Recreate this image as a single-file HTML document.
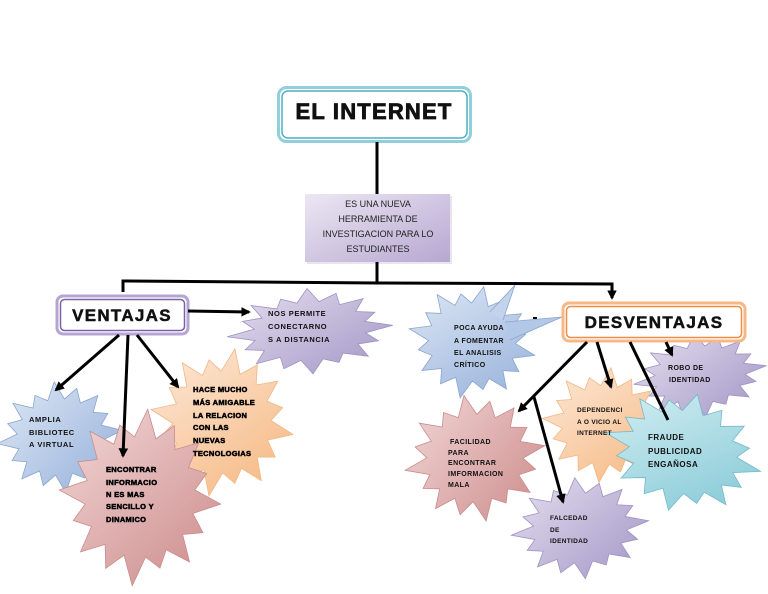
<!DOCTYPE html>
<html><head><meta charset="utf-8"><style>
html,body{margin:0;padding:0;background:#fff;}
svg{display:block;}
</style></head><body>
<svg width="768" height="594" viewBox="0 0 768 594" xmlns="http://www.w3.org/2000/svg" font-family="Liberation Sans, Arial, sans-serif">
<defs>
<polygon id="star" vector-effect="non-scaling-stroke" points="100,0 66.7,13.3 81.3,33.7 56.5,37.8 67.9,67.9 37.8,56.5 32.2,77.6 13.3,66.7 0,100 -13.3,66.7 -34.5,83.2 -37.8,56.5 -67.2,67.2 -56.5,37.8 -79.5,32.9 -66.7,13.3 -100,0 -66.7,-13.3 -80.4,-33.3 -56.5,-37.8 -68.6,-68.6 -37.8,-56.5 -32.6,-78.5 -13.3,-66.7 0,-99 13.3,-66.7 34.5,-83.2 37.8,-56.5 66.5,-66.5 56.5,-37.8 79.5,-32.9 66.7,-13.3"/>
<linearGradient id="gPur" x1="0" y1="0" x2="1" y2="1"><stop offset="0" stop-color="#e4dfef"/><stop offset="1" stop-color="#a396c6"/></linearGradient>
<linearGradient id="gBlu" x1="0" y1="0" x2="1" y2="1"><stop offset="0" stop-color="#e0e9f5"/><stop offset="1" stop-color="#93afda"/></linearGradient>
<linearGradient id="gPea" x1="0" y1="0" x2="1" y2="1"><stop offset="0" stop-color="#fdeadb"/><stop offset="1" stop-color="#f5b57c"/></linearGradient>
<linearGradient id="gPin" x1="0" y1="0" x2="1" y2="1"><stop offset="0" stop-color="#f3d8d8"/><stop offset="1" stop-color="#cc8a8a"/></linearGradient>
<linearGradient id="gTea" x1="0" y1="0" x2="1" y2="1"><stop offset="0" stop-color="#d9f0f4"/><stop offset="1" stop-color="#7dc6d4"/></linearGradient>
<linearGradient id="gBox" x1="0" y1="0" x2="1" y2="1"><stop offset="0" stop-color="#ece7f3"/><stop offset="1" stop-color="#b7a7d1"/></linearGradient>
<marker id="ah" viewBox="0 0 10 10" refX="8" refY="5" markerWidth="3.2" markerHeight="3.2" orient="auto"><path d="M0,0 L10,5 L0,10 z" fill="#000"/></marker>
</defs>

<!-- left stars -->
<use href="#star" transform="translate(60,437) rotate(-6) scale(0.63,0.56)" fill="url(#gBlu)" stroke="#8aa5cf" stroke-width="0.8"/>
<use href="#star" transform="translate(222,422) rotate(10) scale(0.72,0.75)" fill="url(#gPea)" stroke="#f1b886" stroke-width="0.8"/>
<use href="#star" transform="translate(310,331) rotate(-4) scale(0.83,0.43)" fill="url(#gPur)" stroke="#9f92c2" stroke-width="0.8"/>
<use href="#star" transform="translate(140,497) rotate(5) scale(0.81,0.89)" fill="url(#gPin)" stroke="#c98c8c" stroke-width="0.8"/>

<!-- right stars -->
<line x1="537" y1="318" x2="533" y2="318" stroke="#000" stroke-width="2"/>
<use href="#star" transform="translate(472,342) rotate(12) scale(0.64,0.57)" fill="url(#gBlu)" stroke="#8aa5cf" stroke-width="0.8"/>
<polygon points="490,312 515,285 503,320" fill="#c3d3ec"/>
<polyline points="490,312 515,285 503,320" fill="none" stroke="#8aa5cf" stroke-width="0.8"/>
<polygon points="505,322 562,317 510,340" fill="#b3c7e6"/>
<polyline points="505,322 562,317 510,340" fill="none" stroke="#8aa5cf" stroke-width="0.8"/>
<use href="#star" transform="translate(700,375) rotate(-8) scale(0.67,0.42)" fill="url(#gPur)" stroke="#9f92c2" stroke-width="0.8"/>
<use href="#star" transform="translate(605,425) rotate(6) scale(0.63,0.58)" fill="url(#gPea)" stroke="#f1b886" stroke-width="0.8"/>
<use href="#star" transform="translate(475,458) rotate(-10) scale(0.71,0.64)" fill="url(#gPin)" stroke="#c98c8c" stroke-width="0.8"/>
<use href="#star" transform="translate(683,452) rotate(14) scale(0.80,0.60)" fill="url(#gTea)" stroke="#72b9c8" stroke-width="0.8"/>
<use href="#star" transform="translate(580,528) rotate(-6) scale(0.69,0.51)" fill="url(#gPur)" stroke="#9f92c2" stroke-width="0.8"/>

<!-- EL INTERNET box -->
<rect x="278.5" y="87.5" width="192" height="54" rx="8" fill="#fff" stroke="#8fd0dc" stroke-width="3"/>
<rect x="282" y="91" width="185" height="47" rx="6" fill="none" stroke="#4fb0c4" stroke-width="1.5"/>
<text x="374" y="119" text-anchor="middle" font-size="22" font-weight="bold" letter-spacing="1.2" fill="#111" stroke="#111" stroke-width="0.8">EL INTERNET</text>

<!-- subtitle box -->
<rect x="307" y="196" width="145" height="68" fill="#d8d3e2" opacity="0.6"/>
<rect x="305" y="194" width="145" height="68" fill="url(#gBox)"/>
<g font-size="9" fill="#222" text-anchor="middle">
<text x="378" y="207">ES UNA NUEVA</text>
<text x="378" y="222">HERRAMIENTA DE</text>
<text x="378" y="237">INVESTIGACION PARA LO</text>
<text x="378" y="252">ESTUDIANTES</text>
</g>

<!-- VENTAJAS box -->
<rect x="57" y="296" width="131" height="38" rx="6" fill="#fff" stroke="#b5a5d3" stroke-width="3"/>
<rect x="60.5" y="299.5" width="124" height="31" rx="4" fill="none" stroke="#7b61a8" stroke-width="1.5"/>
<text x="122" y="321" text-anchor="middle" font-size="17" font-weight="bold" letter-spacing="1.3" fill="#111" stroke="#111" stroke-width="0.5">VENTAJAS</text>

<!-- DESVENTAJAS box -->
<rect x="563" y="303" width="182" height="38" rx="6" fill="#fff" stroke="#f8b784" stroke-width="3"/>
<rect x="566.5" y="306.5" width="175" height="31" rx="4" fill="none" stroke="#ee8e45" stroke-width="1.5"/>
<text x="654" y="328" text-anchor="middle" font-size="17" font-weight="bold" letter-spacing="1.3" fill="#111" stroke="#111" stroke-width="0.5">DESVENTAJAS</text>

<!-- connectors -->
<g stroke="#000" stroke-width="3" fill="none" stroke-linecap="butt">
<line x1="377" y1="142" x2="377" y2="194"/>
<line x1="377" y1="262" x2="377" y2="283"/>
<polyline points="123,292 123,281 377,283 612,284 612,298" marker-end="url(#ah)"/>
<line x1="188" y1="311" x2="249" y2="312" marker-end="url(#ah)"/>
<line x1="119" y1="335" x2="56" y2="390" marker-end="url(#ah)"/>
<line x1="128" y1="335" x2="123" y2="456" marker-end="url(#ah)"/>
<line x1="137" y1="335" x2="178" y2="387" marker-end="url(#ah)"/>
<line x1="587" y1="342" x2="519" y2="411" marker-end="url(#ah)"/>
<line x1="534" y1="397" x2="563" y2="502" marker-end="url(#ah)"/>
<line x1="597" y1="342" x2="611" y2="387" marker-end="url(#ah)"/>
<line x1="630" y1="342" x2="668" y2="420"/>
<line x1="666" y1="342" x2="672" y2="355" marker-end="url(#ah)"/>
</g>

<!-- star texts -->
<g font-size="7.5" font-weight="bold" fill="#111" letter-spacing="0.6">
<text x="268" y="316">NOS PERMITE</text>
<text x="268" y="329">CONECTARNO</text>
<text x="268" y="342">S  A DISTANCIA</text>

<text x="29" y="422">AMPLIA</text>
<text x="29" y="435">BIBLIOTEC</text>
<text x="29" y="447">A VIRTUAL</text>
</g>
<g font-size="7.5" font-weight="bold" fill="#000" stroke="#000" stroke-width="0.5" letter-spacing="0.3">
<text x="193" y="392">HACE MUCHO</text>
<text x="193" y="405">MÁS AMIGABLE</text>
<text x="193" y="418">LA RELACION</text>
<text x="193" y="430">CON LAS</text>
<text x="193" y="443">NUEVAS</text>
<text x="193" y="456">TECNOLOGIAS</text>

<text x="106" y="472">ENCONTRAR</text>
<text x="106" y="485">INFORMACIO</text>
<text x="106" y="497">N ES MAS</text>
<text x="106" y="509">SENCILLO Y</text>
<text x="106" y="522">DINAMICO</text>
</g>
<g font-size="7" font-weight="bold" fill="#111" letter-spacing="0.4">
<text x="454" y="330">POCA AYUDA</text>
<text x="454" y="343">A FOMENTAR</text>
<text x="454" y="355">EL ANALISIS</text>
<text x="454" y="367">CRÍTICO</text>

<text x="668" y="370">ROBO DE</text>
<text x="669" y="382">IDENTIDAD</text>

<text x="450" y="444">FACILIDAD</text>
<text x="448" y="455">PARA</text>
<text x="448" y="465">ENCONTRAR</text>
<text x="448" y="476">IMFORMACION</text>
<text x="448" y="487">MALA</text>
</g>
<g font-size="6.5" font-weight="bold" fill="#111" letter-spacing="0.3">
<text x="577" y="412">DEPENDENCI</text>
<text x="577" y="424">A O VICIO AL</text>
<text x="577" y="435">INTERNET</text>

<text x="550" y="520">FALCEDAD</text>
<text x="550" y="532">DE</text>
<text x="550" y="543">IDENTIDAD</text>
</g>
<g font-size="8" font-weight="bold" fill="#111" letter-spacing="0.5">
<text x="648" y="440">FRAUDE</text>
<text x="648" y="454">PUBLICIDAD</text>
<text x="648" y="467">ENGAÑOSA</text>
</g>
</svg>
</body></html>
